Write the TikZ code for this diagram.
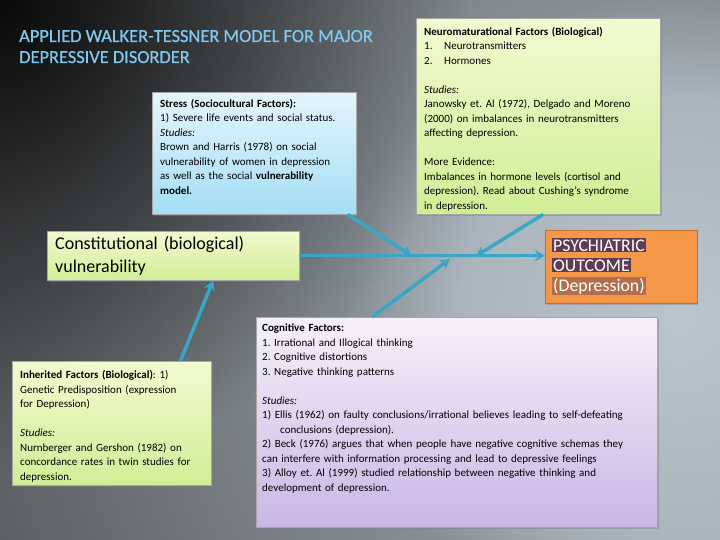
\documentclass[tikz,border=0pt]{standalone}
\usepackage{fontspec}
\setmainfont{Carlito}
\newfontfamily\headfont{Carlito}[FakeBold=0.7]
\usetikzlibrary{arrows.meta,shadows,fadings}
\frenchspacing
\definecolor{bgA}{RGB}{186,196,204}
\definecolor{bgB}{RGB}{170,180,188}
\definecolor{bgC}{RGB}{134,142,148}
\definecolor{bgD}{RGB}{94,97,100}
\definecolor{bgE}{RGB}{84,86,88}
\definecolor{titleblue}{RGB}{128,200,240}
\definecolor{arrowteal}{RGB}{58,166,198}
\definecolor{limetop}{RGB}{242,250,208}
\definecolor{limebot}{RGB}{208,238,150}
\definecolor{skytop}{RGB}{228,245,252}
\definecolor{skybot}{RGB}{164,222,246}
\definecolor{lilactop}{RGB}{246,240,250}
\definecolor{lilacbot}{RGB}{202,182,228}
\definecolor{outorange}{RGB}{244,152,72}
\definecolor{outedge}{RGB}{196,112,44}
\definecolor{glowpurple}{RGB}{96,60,84}
\newcommand{\glowline}[2]{{\setlength{\fboxsep}{1.2pt}\colorbox{#1}{#2}}}
\pgfdeclareradialshading{slidebg}{\pgfpoint{0bp}{0bp}}{color(0bp)=(bgA); color(6.9bp)=(bgB); color(10.3bp)=(bgC); color(21.9bp)=(bgD); color(25bp)=(bgE); color(50bp)=(bgE)}
\tikzfading[name=cornerfade, inner color=transparent!0, outer color=transparent!100]
\begin{document}
\begin{tikzpicture}[x=1pt,y=-1pt,
  infobox/.style={anchor=north west, draw=black!35, inner xsep=8pt, inner ysep=4pt,
    align=left, font=\fontsize{11}{14.5}\selectfont,
    drop shadow={shadow xshift=1.5pt, shadow yshift=-1.5pt, opacity=0.45}},
  limebox/.style={top color=limetop, bottom color=limebot},
  skybox/.style={top color=skytop, bottom color=skybot},
  lilacbox/.style={top color=lilactop, bottom color=lilacbot},
  link/.style={draw=arrowteal, line width=3.5pt, -{Stealth[length=10pt,width=11pt]}}]
  \useasboundingbox (0,0) rectangle (720,540);
  \begin{scope}
    \clip (0,0) rectangle (720,540);
    \shade[shading=slidebg] (680,320) circle (800);
    \fill[black, opacity=0.9, path fading=cornerfade] (0,0) circle (470);
  \end{scope}
  \node[anchor=base west, inner sep=0pt, align=left, text=titleblue,
    font=\headfont\fontsize{18.4}{21}\selectfont] (title) at (19,63)
    {APPLIED WALKER-TESSNER MODEL FOR MAJOR\\DEPRESSIVE DISORDER};
  \node[infobox, limebox, text width=228pt, text height=13pt, text depth=175pt] (neuro) at (416,18)
    {\textbf{Neuromaturational Factors (Biological)}\\
     \makebox[20pt][l]{1.}Neurotransmitters\\
     \makebox[20pt][l]{2.}Hormones\\[14.5pt]
     \textit{Studies:}\\
     Janowsky et. Al (1972), Delgado and Moreno\\
     (2000) on imbalances in neurotransmitters\\
     affecting depression.\\[14.5pt]
     More Evidence:\\
     Imbalances in hormone levels (cortisol and\\
     depression). Read about Cushing’s syndrome\\
     in depression.};
  \node[infobox, skybox, text width=188pt, text height=11pt, text depth=103pt] (stress) at (152,92)
    {\textbf{Stress (Sociocultural Factors):}\\
     1) Severe life events and social status.\\
     \textit{Studies:}\\
     Brown and Harris (1978) on social\\
     vulnerability of women in depression\\
     as well as the social \textbf{vulnerability}\\
     \textbf{model.}};
  \node[infobox, limebox, text width=236pt, minimum height=49pt,
    font=\fontsize{18}{23}\selectfont] (constit) at (47,231)
    {Constitutional (biological)\\vulnerability};
  \node[infobox, fill=outorange, draw=outedge, text=white, inner xsep=6.8pt,
    text width=138pt, minimum height=73pt, font=\fontsize{17.8}{20}\selectfont] (outcome) at (545,230)
    {\glowline{glowpurple}{PSYCHIATRIC}\\
     \glowline{glowpurple}{OUTCOME}\\
     \glowline{glowpurple!45!outorange}{(Depression)}};
  \node[infobox, lilacbox, inner xsep=6pt, text width=389pt, text height=10.5pt, text depth=191.5pt] (cogn) at (256,317)
    {\textbf{Cognitive Factors:}\\
     1. Irrational and Illogical thinking\\
     2. Cognitive distortions\\
     3. Negative thinking patterns\\[14.5pt]
     \textit{Studies:}\\
     1) Ellis (1962) on faulty conclusions/irrational believes leading to self-defeating\\
     \hspace*{18pt}conclusions (depression).\\
     2) Beck (1976) argues that when people have negative cognitive schemas they\\
     can interfere with information processing and lead to depressive feelings\\
     3) Alloy et. Al (1999) studied relationship between negative thinking and\\
     development of depression.};
  \node[infobox, limebox, text width=183pt, text height=13.5pt, text depth=102.5pt] (inherit) at (12,361)
    {\textbf{Inherited Factors (Biological)}: 1)\\
     Genetic Predisposition (expression\\
     for Depression)\\[14.5pt]
     \textit{Studies:}\\
     Nurnberger and Gershon (1982) on\\
     concordance rates in twin studies for\\
     depression.};
  \coordinate (hitstress) at (412,256);
  \coordinate (hitneuro) at (476,256);
  \coordinate (hitcogn) at (450,259);
  \draw[link] (constit.east) -- (constit.east -| outcome.west);
  \draw[link] ([xshift=-9pt]stress.south east) -- (hitstress);
  \draw[link] ([xshift=5pt]neuro.south) -- (hitneuro);
  \draw[link] ([xshift=116pt]cogn.north west) -- (hitcogn);
  \draw[link] ([xshift=-31pt]inherit.north east) -- ([xshift=40pt]constit.south);
\end{tikzpicture}
\end{document}
